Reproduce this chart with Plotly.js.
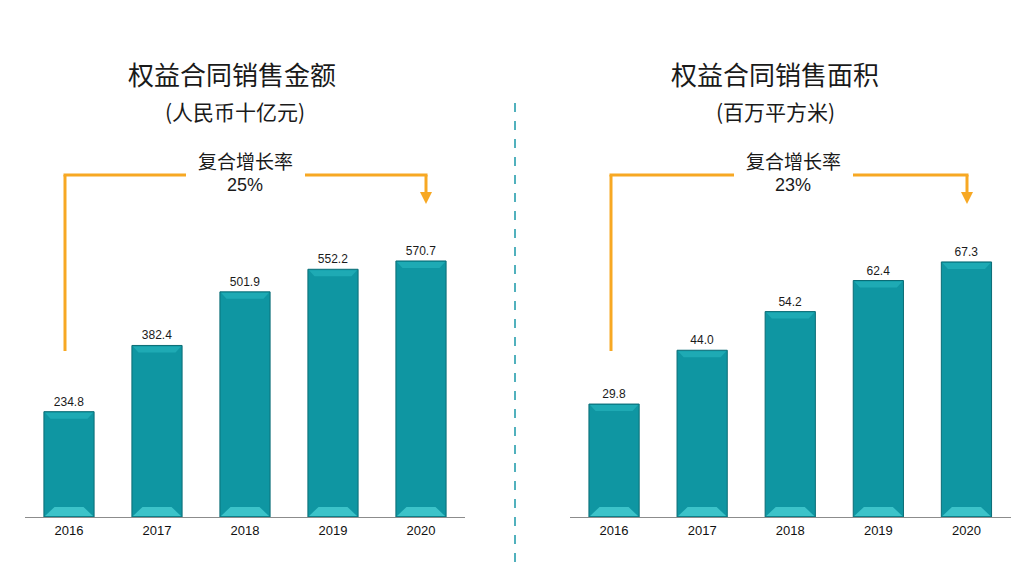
<!DOCTYPE html>
<html>
<head>
<meta charset="utf-8">
<script src="https://cdn.plot.ly/plotly-3.0.1.min.js"></script>
<style>
  html, body { margin: 0; padding: 0; background: #ffffff; }
  #chart { width: 1024px; height: 571px; }
</style>
</head>
<body>
<div id="chart"></div>
<script>
// Contracted sales by year
const years = ['2016', '2017', '2018', '2019', '2020'];
const salesAmount = [234.8, 382.4, 501.9, 552.2, 570.7];   // 人民币十亿元
const salesArea = [29.8, 44.0, 54.2, 62.4, 67.3];          // 百万平方米
const amountLabels = ['234.8', '382.4', '501.9', '552.2', '570.7'];
const areaLabels = ['29.8', '44.0', '54.2', '62.4', '67.3'];
const cagrAmount = '25%';
const cagrArea = '23%';

const W = 1024, H = 571;
const TEAL = '#0f96a2';
const ORANGE = '#f7a823';
const CJK = '"Noto Sans CJK SC", "Noto Sans", sans-serif';
const LATIN = '"Liberation Sans", Arial, sans-serif';

const px = v => v / W;
const py = v => 1 - v / H;

const xIdx = years.map((_, i) => i);
const BAR_W = 0.57;

function barTrace(vals, labels, xa, ya) {
  return {
    type: 'bar', x: xIdx, y: vals, xaxis: xa, yaxis: ya,
    width: BAR_W,
    marker: { color: TEAL, line: { color: '#0a6c75', width: 1 } },
    text: labels, textposition: 'outside', cliponaxis: false,
    textfont: { family: LATIN, size: 12, color: '#1a1a1a' },
    hoverinfo: 'skip', showlegend: false
  };
}

// Bevel highlights on each bar, sized in pixels and anchored on the data values
function bevels(vals, xref, yref) {
  const out = [];
  const hw = 24.5;
  vals.forEach((v, i) => {
    const common = { xref, yref, xsizemode: 'pixel', ysizemode: 'pixel', xanchor: i, line: { width: 0 }, layer: 'above' };
    // bright bottom bevel
    out.push(Object.assign({}, common, { type: 'path', yanchor: 0,
      path: `M ${-hw + 0.5},1 L ${hw - 0.5},1 L ${hw - 10},10 L ${-hw + 10},10 Z`, fillcolor: '#3cc3c9' }));
    // light top bevel
    out.push(Object.assign({}, common, { type: 'path', yanchor: v,
      path: `M ${-hw + 0.5},-1 L ${hw - 0.5},-1 L ${hw - 6},-7 L ${-hw + 6},-7 Z`, fillcolor: '#1eaab4' }));
  });
  return out;
}

const yTop = 200, yBase = 517;
const pxPerAmount = 0.4486, pxPerArea = 3.79;
const rangeAmount = (yBase - yTop) / pxPerAmount;
const rangeArea = (yBase - yTop) / pxPerArea;

const axisX = {
  tickmode: 'array', tickvals: xIdx, ticktext: years, range: [-0.5, 4.5],
  showline: true, linecolor: '#8c8c8c', linewidth: 1, ticks: '', showgrid: false, zeroline: false,
  ticklabelstandoff: 1,
  tickfont: { family: LATIN, size: 13, color: '#111111' }, fixedrange: true
};
const axisY = { visible: false, showgrid: false, zeroline: false, fixedrange: true };

// CAGR bracket with arrow
function bracket(x0, xGapL, xGapR, x1) {
  const ln = { color: ORANGE, width: 3 };
  return [
    { type: 'line', xref: 'paper', yref: 'paper', x0: px(x0), x1: px(x0), y0: py(351), y1: py(175), line: ln },
    { type: 'line', xref: 'paper', yref: 'paper', x0: px(x0 - 1.5), x1: px(xGapL), y0: py(175), y1: py(175), line: ln },
    { type: 'line', xref: 'paper', yref: 'paper', x0: px(xGapR), x1: px(x1 + 1.5), y0: py(175), y1: py(175), line: ln },
    { type: 'line', xref: 'paper', yref: 'paper', x0: px(x1), x1: px(x1), y0: py(175), y1: py(193), line: ln },
    { type: 'path', xref: 'paper', yref: 'paper',
      path: `M ${px(x1 - 6)},${py(192)} L ${px(x1 + 6)},${py(192)} L ${px(x1)},${py(204)} Z`,
      fillcolor: ORANGE, line: { width: 0 } }
  ];
}

const shapes = [].concat(
  bevels(salesAmount, 'x', 'y'),
  bevels(salesArea, 'x2', 'y2'),
  bracket(65, 186, 305, 426),
  bracket(611, 734, 853, 967),
  [{ type: 'line', xref: 'paper', yref: 'paper', x0: px(515), x1: px(515), y0: py(103), y1: py(571),
     line: { color: '#1898a8', width: 1.5, dash: 'dash' } }]
);

function txt(text, x, y, size, family) {
  return { text, x: px(x), y: py(y), xref: 'paper', yref: 'paper', showarrow: false,
    xanchor: 'center', yanchor: 'middle', font: { family, size, color: '#1a1a1a' } };
}

const annotations = [
  txt('权益合同销售金额', 232, 73, 26, CJK),
  txt('(人民币十亿元)', 235, 111, 21, CJK),
  txt('权益合同销售面积', 775, 73, 26, CJK),
  txt('(百万平方米)', 775, 111, 21, CJK),
  txt('复合增长率', 245, 160, 19, CJK),
  txt(cagrAmount, 245, 185, 18, LATIN),
  txt('复合增长率', 793, 160, 19, CJK),
  txt(cagrArea, 793, 185, 18, LATIN)
];

const layout = {
  width: W, height: H,
  margin: { l: 0, r: 0, t: 0, b: 0 },
  paper_bgcolor: '#ffffff', plot_bgcolor: 'rgba(0,0,0,0)',
  showlegend: false,
  xaxis: Object.assign({}, axisX, { domain: [px(25), px(465)], anchor: 'y' }),
  yaxis: Object.assign({}, axisY, { domain: [py(yBase), py(yTop)], range: [0, rangeAmount], anchor: 'x' }),
  xaxis2: Object.assign({}, axisX, { domain: [px(570), px(1010.5)], anchor: 'y2' }),
  yaxis2: Object.assign({}, axisY, { domain: [py(yBase), py(yTop)], range: [0, rangeArea], anchor: 'x2' }),
  shapes, annotations
};

Plotly.newPlot('chart', [
  barTrace(salesAmount, amountLabels, 'x', 'y'),
  barTrace(salesArea, areaLabels, 'x2', 'y2')
], layout, { staticPlot: true, displayModeBar: false });
</script>
</body>
</html>
